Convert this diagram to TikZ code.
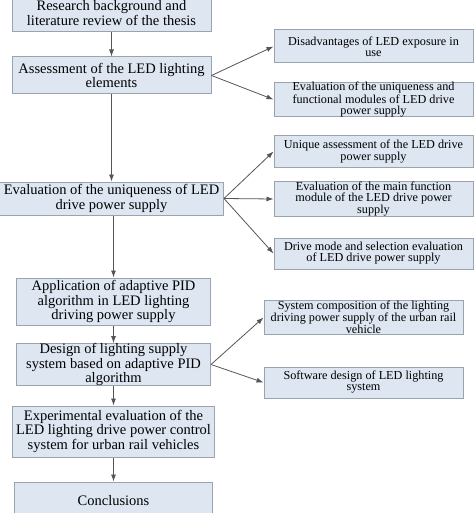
\documentclass[tikz,border=0pt]{standalone}
\usepackage{fontspec}
\setmainfont{Liberation Serif}
\usetikzlibrary{arrows.meta}
\definecolor{boxfill}{HTML}{DDE6F1}
\definecolor{boxline}{HTML}{9AA4AF}
\definecolor{arrowline}{HTML}{555555}
\tikzset{
    mainbox/.style={rectangle, draw=boxline, fill=boxfill, line width=1pt,
    	inner sep=0pt, align=center, font=\fontsize{14.5}{12.6}\selectfont}
}
\tikzset{
    sidebox/.style={mainbox, minimum width=199, minimum height=31,
    	font=\fontsize{12.2}{11}\selectfont}
}
\tikzset{
	arr/.style={draw=arrowline, line width=0.8pt,
		-{Latex[length=7pt,width=5pt]}}
}

\begin{document}
\begin{tikzpicture}[x=1pt, y=-1pt]
	\useasboundingbox (0,0) rectangle (474,513);
	% left column
	\node (1) [mainbox, minimum width=199, minimum height=38] at (111.5, 13) {Research background and\\literature review of the thesis};
	\node (2) [mainbox, minimum width=199, minimum height=37] at (111.5, 75.5) {Assessment of the LED lighting\\elements};
	\node (3) [mainbox, minimum width=224, minimum height=33] at (111.5, 198.5) {Evaluation of the uniqueness of LED\\drive power supply};
	\node (4) [mainbox, minimum width=194, minimum height=47] at (113.5, 301.5) {Application of adaptive PID\\algorithm in LED lighting\\driving power supply};
	\node (5) [mainbox, minimum width=194, minimum height=37] at (113.5, 364.5) {Design of lighting supply\\system based on adaptive PID\\algorithm};
	\node (6) [mainbox, minimum width=202, minimum height=51] at (113.5, 431.5) {Experimental evaluation of the\\LED lighting drive power control\\system for urban rail vehicles};
	\node (7) [mainbox, minimum width=198, minimum height=38] at (113.5, 501) {Conclusions};
	% right column
	\node (8) [sidebox, minimum height=33] at (373.5, 46.5) {Disadvantages of LED exposure in\\use};
	\node (9) [sidebox, minimum height=33] at (373.5, 99.5) {Evaluation of the uniqueness and\\functional modules of LED drive\\power supply};
	\node (10) [sidebox] at (373.5, 151.5) {Unique assessment of the LED drive\\power supply};
	\node (11) [sidebox, minimum height=32] at (373.5, 199) {Evaluation of the main function\\module of the LED drive power\\supply};
	\node (12) [sidebox] at (373.5, 253.5) {Drive mode and selection evaluation\\of LED drive power supply};
	\node (13) [sidebox] at (363.5, 317.5) {System composition of the lighting\\driving power supply of the urban rail\\vehicle};
	\node (14) [sidebox] at (363.5, 382.5) {Software design of LED lighting\\system};
	% arrows
	\draw[arr] (1) -- (2);
	\draw[arr] (2) -- (3);
	\draw[arr] (4.north |- 3.south) -- (4.north);
	\draw[arr] (4) -- (5);
	\draw[arr] (5) -- (6);
	\draw[arr] (6) -- (7);
	\draw[arr] (2.east) -- (8.west);
	\draw[arr] (2.east) -- (9.west);
	\draw[arr] (3.east) -- (10.west);
	\draw[arr] (3.east) -- (11.west);
	\draw[arr] (3.east) -- (12.west);
	\draw[arr] (5.east) -- (13.west);
	\draw[arr] (5.east) -- (14.west);
\end{tikzpicture}
\end{document}
